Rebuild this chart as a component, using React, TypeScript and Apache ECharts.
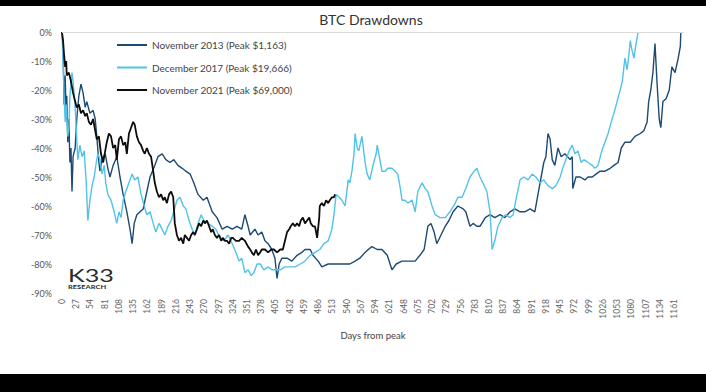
import React, { useEffect, useRef } from "react";
import * as echarts from "echarts";

const SERIES_NAMES = [
  "November 2013 (Peak $1,163)",
  "December 2017 (Peak $19,666)",
  "November 2021 (Peak $69,000)",
];

const days2013 = [0,2,4,6,8,9,11,13,15,17,19,21,25,28,32,36,40,44,47,53,59,63,66,70,72,76,82,87,91,97,104,110,116,123,129,133,137,142,148,154,161,167,176,182,190,197,205,212,220,228,235,243,250,258,268,275,285,294,304,313,323,332,341,347,353,357,366,372,379,385,391,398,404,408,412,417,427,436,446,455,461,471,476,486,493,505,518,531,546,556,565,575,581,588,598,607,617,626,634,645,656,670,679,687,694,700,706,711,719,727,734,742,751,761,766,774,780,787,793,803,812,821,831,840,850,859,869,878,888,897,903,909,914,918,922,926,930,935,941,947,954,964,968,969,975,983,992,998,1006,1013,1021,1030,1040,1047,1055,1061,1068,1078,1087,1097,1104,1110,1113,1117,1121,1125,1129,1133,1136,1140,1146,1152,1157,1163,1169,1173,1174];
const dd2013 = [0,-5,-25,-15,-30,-22,-38,-30,-45,-40,-55,-43,-40,-30,-22,-18,-21,-26,-24,-28,-27,-30,-36,-45,-48,-44,-42,-47,-50,-46,-43,-50,-56,-62,-68,-73,-66,-63,-62,-61,-55,-50,-46,-43,-42,-44,-45,-44,-46,-47,-48,-49,-52,-56,-58,-57,-62,-64,-68,-67,-68,-67,-68,-63,-67,-70,-68,-70,-69,-72,-73,-75,-78,-85,-80,-78,-78,-79,-77,-76,-75,-75,-77,-79,-81,-80,-80,-80,-80,-79,-78,-76,-75,-74,-75,-75,-77,-82,-80,-79,-79,-79,-77,-75,-67,-66,-69,-73,-70,-67,-65,-62,-60,-61,-62,-67,-66,-67,-67,-64,-63,-64,-63,-64,-62,-61,-62,-62,-61,-62,-56,-50,-45,-43,-35,-37,-44,-46,-40,-43,-42,-44,-43,-54,-50,-50,-51,-50,-50,-49,-48,-48,-47,-46,-45,-40,-38,-38,-36,-35,-34,-31,-24,-20,-14,-4,-18,-30,-33,-24,-23,-20,-12,-14,-9,-5,0];

const days2017 = [0,2,4,6,8,9,11,13,15,19,21,25,28,30,34,38,42,46,49,53,57,61,65,68,72,76,80,83,87,93,99,104,108,112,116,121,127,133,138,144,150,156,161,167,173,178,184,190,195,201,207,212,218,224,230,235,241,247,252,258,264,269,277,285,292,300,307,315,323,330,336,341,347,353,359,364,370,376,383,391,398,406,414,423,433,442,452,461,471,480,489,497,505,512,516,520,526,531,537,543,546,550,554,556,560,563,569,573,575,579,584,590,596,598,603,607,613,618,626,632,637,641,645,651,656,664,670,675,683,689,694,702,708,717,727,736,746,751,759,766,774,782,787,793,801,806,812,816,821,827,835,842,850,856,861,869,876,884,892,899,907,914,922,930,937,945,950,956,962,968,973,979,985,990,998,1006,1011,1017,1024,1030,1036,1042,1047,1053,1059,1063,1066,1068,1072,1076,1078,1081,1085,1089,1093];
const dd2017 = [0,-10,-22,-31,-25,-28,-36,-33,-22,-14,-17,-26,-37,-44,-39,-43,-41,-52,-65,-58,-53,-50,-45,-42,-44,-49,-46,-52,-56,-58,-62,-66,-62,-64,-58,-55,-52,-49,-51,-50,-56,-60,-63,-62,-66,-69,-66,-68,-70,-67,-65,-62,-58,-57,-60,-61,-65,-68,-70,-66,-63,-65,-66,-67,-68,-71,-72,-70,-73,-76,-79,-78,-83,-82,-84,-83,-80,-80,-82,-81,-82,-82,-82,-81,-81,-81,-80,-79,-77,-76,-75,-73,-72,-68,-63,-56,-57,-58,-60,-51,-52,-48,-42,-35,-40,-41,-36,-42,-45,-49,-51,-46,-42,-39,-44,-48,-48,-47,-47,-48,-49,-53,-58,-58,-59,-58,-62,-55,-52,-54,-55,-60,-63,-64,-64,-62,-59,-57,-57,-54,-50,-48,-47,-50,-53,-55,-62,-75,-72,-67,-64,-63,-64,-63,-58,-51,-50,-51,-49,-50,-52,-51,-53,-54,-53,-50,-47,-44,-41,-39,-42,-41,-45,-44,-45,-46,-47,-46,-41,-38,-35,-31,-28,-24,-20,-17,-12,-9,-13,-7,-3,-6,-9,-4,0];

const days2021 = [0,2,4,6,8,9,13,17,21,25,28,32,36,40,44,47,51,55,59,63,66,70,74,78,82,85,89,93,97,101,104,108,112,116,120,123,127,131,135,138,142,146,150,154,157,161,165,169,173,176,180,184,188,192,195,199,203,207,211,214,218,222,226,230,233,237,241,245,249,252,256,260,264,268,271,275,279,283,286,290,294,298,302,305,309,313,317,321,324,330,336,341,347,353,357,360,364,368,372,376,379,385,391,397,402,408,414,419,423,427,431,434,438,442,446,450,453,457,461,465,469,472,476,480,484,488,489,493,497,501,505,508,512,516,518];
const dd2021 = [0,-3,-8,-12,-10,-15,-14,-17,-21,-24,-26,-25,-28,-27,-29,-28,-31,-32,-30,-34,-37,-36,-42,-45,-41,-38,-35,-36,-40,-39,-44,-37,-36,-39,-38,-42,-35,-33,-31,-32,-36,-38,-39,-41,-42,-40,-42,-43,-48,-52,-55,-57,-56,-58,-57,-59,-56,-55,-57,-66,-70,-72,-71,-73,-70,-71,-72,-70,-69,-70,-68,-66,-67,-65,-66,-65,-67,-69,-68,-70,-71,-70,-72,-71,-72,-72,-73,-71,-71,-72,-72,-71,-72,-74,-75,-76,-77,-75,-77,-76,-75,-75,-76,-75,-75,-76,-75,-75,-72,-69,-68,-67,-66,-67,-66,-67,-65,-64,-66,-65,-64,-66,-67,-67,-71,-64,-60,-59,-60,-58,-59,-58,-57,-57,-56];

const X_MIN = 0;
const X_MAX = 1180;
const X_INTERVAL = 27;
const Y_MIN = -90;
const Y_MAX = 0;
const Y_INTERVAL = 10;

const COLORS = ["#1c4a72", "#52c3e8", "#0d0d0d"];
const FONT = "Lato, 'Open Sans', sans-serif";

function pairs(days: number[], vals: number[]) {
  return days.map((d, i) => [d, vals[i]]);
}

export default function App() {
  const ref = useRef<HTMLDivElement>(null);
  useEffect(() => {
    if (!ref.current) return;
    const chart = echarts.init(ref.current, undefined, { renderer: "svg" });
    const seriesData = [pairs(days2013, dd2013), pairs(days2017, dd2017), pairs(days2021, dd2021)];
    chart.setOption({
      animation: false,
      backgroundColor: "#ffffff",
      title: {
        text: "BTC Drawdowns",
        left: 371,
        top: 6,
        padding: 0,
        textAlign: "center",
        textStyle: { fontSize: 14, fontWeight: "normal", color: "#333", fontFamily: FONT },
      },
      legend: {
        orient: "vertical",
        left: 117,
        top: 34,
        padding: 0,
        itemWidth: 30,
        itemHeight: 2,
        itemGap: 12.5,
        icon: "rect",
        data: SERIES_NAMES,
        textStyle: { fontSize: 10, color: "#444", fontFamily: FONT },
      },
      grid: { left: 62, right: 22, top: 26, bottom: 81, outerBoundsMode: "none" },
      xAxis: {
        type: "value",
        min: X_MIN,
        max: X_MAX,
        interval: X_INTERVAL,
        name: "Days from peak",
        nameLocation: "middle",
        nameGap: 37,
        nameTextStyle: { fontSize: 9.5, color: "#444", fontFamily: FONT },
        axisLine: { show: false },
        axisTick: { show: false },
        splitLine: { show: false },
        axisLabel: {
          rotate: 90,
          fontSize: 8.5,
          color: "#666",
          margin: 6,
          fontFamily: FONT,
          showMaxLabel: false,
          formatter: (v: number) => String(v),
        },
      },
      yAxis: {
        type: "value",
        min: Y_MIN,
        max: Y_MAX,
        interval: Y_INTERVAL,
        axisLine: { show: false },
        axisTick: { show: false },
        splitLine: { show: false },
        axisLabel: { formatter: "{value}%", fontSize: 9, color: "#555", margin: 10, fontFamily: FONT },
      },
      series: SERIES_NAMES.map((name, i) => ({
        name,
        type: "line",
        data: seriesData[i],
        showSymbol: false,
        symbol: "none",
        color: COLORS[i],
        lineStyle: { width: i === 2 ? 1.8 : 1.4, color: COLORS[i] },
        z: i === 2 ? 4 : 3,
        ...(i === 0
          ? {
              markLine: {
                silent: true,
                symbol: ["none", "none"],
                label: { show: false },
                lineStyle: { color: "#d9d9d9", width: 1, type: "solid" },
                data: [{ yAxis: 0 }],
              },
            }
          : {}),
      })),
      graphic: [
        {
          type: "group",
          left: 68,
          top: 260,
          children: [
            {
              type: "text",
              x: 0,
              y: 0,
              scaleX: 1.4,
              style: { text: "K33", fontSize: 18, fontFamily: FONT, fill: "#2a2a2a", fontWeight: "normal" },
            },
            {
              type: "text",
              x: 0,
              y: 17,
              scaleX: 1.25,
              style: { text: "RESEARCH", fontSize: 6, fontFamily: FONT, fill: "#2a2a2a", fontWeight: "bold" },
            },
          ],
        },
      ],
    });
    return () => chart.dispose();
  }, []);
  return (
    <div style={{ position: "absolute", left: 0, top: 0, width: 706, height: 392, background: "#000" }}>
      <div ref={ref} style={{ position: "absolute", left: 0, top: 6, width: 706, height: 368, background: "#fff" }} />
    </div>
  );
}
